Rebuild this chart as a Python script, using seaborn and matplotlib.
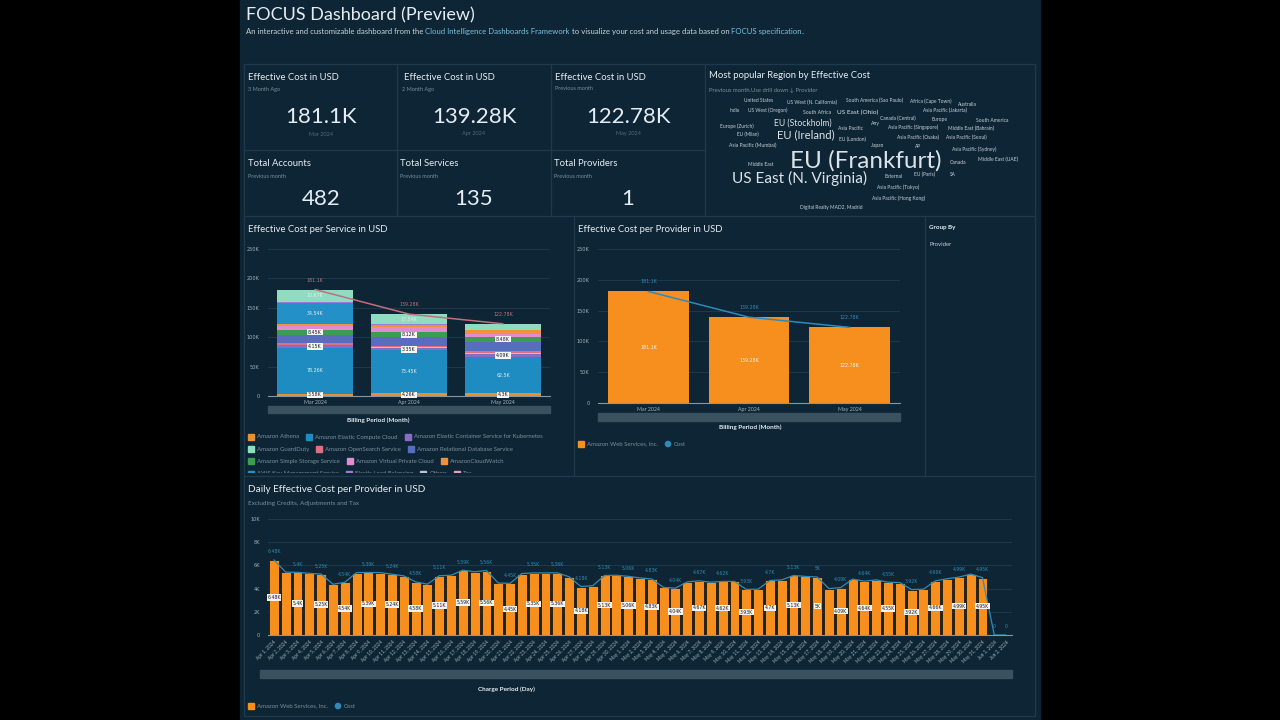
import numpy as np
import pandas as pd
import matplotlib
matplotlib.use("Agg")
import matplotlib.pyplot as plt
from matplotlib.patches import Rectangle, Circle
import seaborn as sns

BG = "#0e2535"
SEP = "#1f3a4c"
WHITE = "#e6edf2"
GREY = "#7d8e9b"
DIM = "#56697a"
LINK = "#7cc2e0"
GRID = "#1d3a4d"
AXIS = "#8796a2"
TICK = "#a3b1bb"
ORANGE = "#f78f1e"
TEAL = "#2f8bb6"
NUM = ["DejaVu Sans"]  # small number labels keep their decimal point readable

sns.set_theme(style="dark", rc={
    "axes.facecolor": "none", "figure.facecolor": "black",
    "axes.edgecolor": AXIS, "grid.color": GRID, "text.color": WHITE,
    "xtick.color": TICK, "ytick.color": TICK,
})
plt.rcParams["font.family"] = ["Lato", "DejaVu Sans"]

# ---------------- data ----------------
months = ["Mar 2024", "Apr 2024", "May 2024"]
monthly_cost = [181.10, 139.28, 122.78]  # thousand USD
kpi_periods = ["3 Month Ago", "2 Month Ago", "Previous month"]

count_titles = ["Total Accounts", "Total Services", "Total Providers"]
count_values = [482, 135, 1]

# services in stacking order (bottom -> top), values in thousand USD
services = ["Amazon Athena", "Amazon Elastic Compute Cloud",
            "Amazon Elastic Container Service for Kubernetes", "Others",
            "Amazon OpenSearch Service", "Amazon Relational Database Service",
            "Amazon Simple Storage Service", "Amazon Virtual Private Cloud",
            "AmazonCloudWatch", "AWS Key Management Service",
            "Elastic Load Balancing", "Amazon GuardDuty", "Tax"]
athena = [3.58, 4.26, 4.30]
ec2 = [78.26, 73.45, 62.50]
eks = [4.15, 3.35, 4.09]
others = [1.50, 1.50, 2.50]
opensearch = [3.00, 2.50, 2.50]
rds = [13.95, 15.00, 16.60]
s3 = [8.45, 8.12, 8.48]
vpc = [6.00, 8.50, 4.00]
cloudwatch = [4.00, 4.06, 7.00]
kms = [34.54, 0.00, 0.00]
elb = [3.00, 1.00, 1.00]
guardduty = [20.67, 17.54, 9.81]
tax = [0.00, 0.00, 0.00]
service_cost = [athena, ec2, eks, others, opensearch, rds, s3, vpc,
                cloudwatch, kms, elb, guardduty, tax]
service_colors = ["#e8902f", "#1e8cc0", "#8a6bc6", "#b4c6d6", "#e0707f",
                  "#5a6cc0", "#3b9c52", "#e08bd2", "#f0923c", "#2390c8",
                  "#9d7ad6", "#8fdcc0", "#e0a2b9"]
label_style = ["box", "plain", "box", None, None, None, "box", None,
               None, "plain", None, "plain", None]

providers = ["Amazon Web Services, Inc."]

days = [d.strftime("%b %-d, %Y") for d in pd.date_range("2024-04-01", "2024-06-02")]
daily_cost = [6.48, 5.42, 5.40, 5.32, 5.25, 4.38, 4.54, 5.38, 5.39, 5.38,
              5.24, 5.10, 4.58, 4.38, 5.11, 5.15, 5.59, 5.45, 5.56, 4.48,
              4.45, 5.30, 5.35, 5.35, 5.36, 5.02, 4.18, 4.25, 5.13, 5.15,
              5.06, 4.92, 4.83, 4.10, 4.04, 4.58, 4.67, 4.55, 4.62, 4.62,
              3.93, 3.95, 4.70, 4.75, 5.13, 5.05, 5.00, 4.00, 4.09, 4.82,
              4.64, 4.75, 4.55, 4.52, 3.92, 3.95, 4.66, 4.85, 4.99, 5.25,
              4.95, 0.00, 0.00]

regions = ["United States", "US West (N. California)", "South America (Sao Paulo)",
           "Africa (Cape Town)", "Australia", "India", "US West (Oregon)",
           "South Africa", "US East (Ohio)", "Asia Pacific (Jakarta)",
           "Canada (Central)", "Europe", "South America", "Europe (Zurich)",
           "EU (Stockholm)", "Any", "Asia Pacific (Singapore)",
           "Middle East (Bahrain)", "Asia Pacific", "EU (Milan)", "EU (Ireland)",
           "EU (London)", "Asia Pacific (Osaka)", "Asia Pacific (Seoul)",
           "Asia Pacific (Mumbai)", "Japan", "AP", "Asia Pacific (Sydney)",
           "EU (Frankfurt)", "Middle East (UAE)", "Canada", "Middle East",
           "US East (N. Virginia)", "External", "EU (Paris)", "SA",
           "Asia Pacific (Tokyo)", "Asia Pacific (Hong Kong)",
           "Digital Realty MAD2, Madrid"]
region_cost = [0.8, 0.9, 0.9, 0.7, 0.7, 0.6, 0.9, 1.5, 5.0, 0.7, 0.8, 1.0, 1.0,
               0.7, 10.5, 1.5, 0.9, 0.8, 1.0, 0.6, 17.7, 0.8, 0.8, 0.8, 1.0,
               0.7, 0.5, 0.9, 52.0, 1.0, 1.0, 0.7, 28.5, 1.0, 0.8, 0.6, 0.8,
               0.8, 0.7]
# word cloud layout (pixel centres)
cloud_xy = [(759, 101), (812, 102), (875, 100), (931, 101), (967, 104),
            (735, 111), (768, 110), (817, 113), (858, 112), (945, 110),
            (898, 118), (940, 120), (992, 121), (737, 126), (803, 123),
            (875, 124), (913, 127), (971, 128), (851, 129), (748, 134),
            (806, 135), (852, 139), (918, 137), (966, 137), (753, 145),
            (877, 145), (918, 146), (974, 149), (866, 161), (998, 159),
            (958, 162), (761, 165), (800, 178), (894, 176), (925, 174),
            (953, 174), (898, 187), (899, 198), (831, 208)]


def fmt_k(v):
    if v == 0:
        return "0"
    return f"{v:.2f}".rstrip("0").rstrip(".") + "K"


# ---------------- figure ----------------
W, H = 1280, 720
fig = plt.figure(figsize=(W / 100, H / 100), dpi=100)
renderer = fig.canvas.get_renderer()


def px_axes(x0, y0, x1, y1, z=1):
    ax = fig.add_axes([x0 / W, 1 - y1 / H, (x1 - x0) / W, (y1 - y0) / H], zorder=z)
    ax.set_xlim(x0, x1)
    ax.set_ylim(y1, y0)
    ax.axis("off")
    return ax


def chart_axes(x0, y0, x1, y1):
    ax = fig.add_axes([x0 / W, 1 - y1 / H, (x1 - x0) / W, (y1 - y0) / H], zorder=3)
    ax.set_facecolor("none")
    return ax


def style_chart(ax, ymax, step, xfs=3.8):
    ticks = np.arange(0, ymax + 0.01, step)
    ax.set_ylim(0, ymax)
    ax.set_yticks(ticks)
    ax.set_yticklabels([fmt_k(t) for t in ticks])
    ax.grid(axis="y", color=GRID, lw=0.7)
    ax.grid(axis="x", visible=False)
    ax.set_axisbelow(True)
    for s in ["top", "right", "left"]:
        ax.spines[s].set_visible(False)
    ax.spines["bottom"].set_color(AXIS)
    ax.spines["bottom"].set_linewidth(0.8)
    ax.tick_params(axis="y", length=0, labelsize=3.6, labelcolor=TICK, pad=6)
    ax.tick_params(axis="x", length=2, width=0.6, color=AXIS, labelsize=xfs,
                   labelcolor=TICK, pad=1)
    for lab in ax.get_yticklabels():
        lab.set_family(NUM)
    ax.set_xlabel("")
    ax.set_ylabel("")


def flow_legend(ax, labels, colors, x_start, x_limit, y_start, row_h, fs=4.3, dot=None):
    x, y = x_start, y_start
    for i, (lab, col) in enumerate(zip(labels, colors)):
        t = ax.text(0, 0, lab, fontsize=fs, color=GREY, va="center", clip_on=True)
        w = t.get_window_extent(renderer).width
        if x + w + 9 > x_limit and x > x_start:
            x, y = x_start, y + row_h
        if dot is not None and dot[i]:
            ax.add_patch(Circle((x + 3, y), 2.6, color=col, clip_on=True))
        else:
            ax.add_patch(Rectangle((x, y - 3), 6, 6, color=col, clip_on=True))
        t.set_position((x + 9, y))
        x += w + 9 + 7


cv = px_axes(0, 0, W, H, z=0)
cv.add_patch(Rectangle((240, 0), 800, 720, color=BG))

# panel separators
for (xa, ya, xb, yb) in [(244, 64, 1035, 64), (244, 150, 705, 150), (244, 216, 1035, 216),
                         (244, 476, 1035, 476), (244, 716, 1035, 716),
                         (397, 64, 397, 216), (551, 64, 551, 216), (705, 64, 705, 216),
                         (574, 216, 574, 476), (925, 216, 925, 476),
                         (244, 64, 244, 716), (1035, 64, 1035, 716)]:
    cv.plot([xa, xb], [ya, yb], color=SEP, lw=0.9)

# header
cv.text(246, 15, "FOCUS Dashboard (Preview)", fontsize=13, color=WHITE, va="center")
x = 246
for piece, col in [("An interactive and customizable dashboard from the ", "#c9d3da"),
                   ("Cloud Intelligence Dashboards Framework", LINK),
                   (" to visualize your cost and usage data based on ", "#c9d3da"),
                   ("FOCUS specification", LINK), (".", "#c9d3da")]:
    t = cv.text(x, 34, piece, fontsize=5.6, color=col, va="baseline")
    x += t.get_window_extent(renderer).width

# KPI tiles
col_x = [(245, 397), (397, 551), (551, 705)]
title_x = [248, 404, 555]
for i, (c0, c1) in enumerate(col_x):
    cx = (c0 + c1) / 2
    cv.text(title_x[i], 77, "Effective Cost in USD", fontsize=6.8, color=WHITE, va="center")
    cv.text(title_x[i] - (2 if i == 1 else 0), 89, kpi_periods[i], fontsize=4.0, color=GREY, va="center")
    cv.text(cx, 117, fmt_k(monthly_cost[i]), fontsize=16, color=WHITE, ha="center", va="center")
    cv.text(cx, 134, months[i], fontsize=4.0, color=DIM, ha="center", va="center")
    cv.text(c0 + 3, 163, count_titles[i], fontsize=6.8, color=WHITE, va="center")
    cv.text(c0 + 3, 177, "Previous month", fontsize=4.0, color=GREY, va="center")
    cv.text(cx, 199, str(count_values[i]), fontsize=16, color=WHITE, ha="center", va="center")

# word cloud
cv.text(709, 76, "Most popular Region by Effective Cost", fontsize=6.8, color=WHITE, va="center")
cv.text(709, 90, "Previous month.Use drill down \u2193 Provider", fontsize=4.2, color=GREY, va="center")
cmax = max(region_cost)
for name, cost, (wx, wy) in zip(regions, region_cost, cloud_xy):
    fs = 3.3 + 14.2 * cost / cmax
    cv.text(wx, wy, name, fontsize=fs, color="#dbe3e9" if cost > 3 else "#c6d0d8",
            ha="center", va="center")

# group-by panel
cv.text(929, 228, "Group By", fontsize=4.5, color=WHITE, va="center", fontweight="bold")
cv.text(929, 244, "Provider", fontsize=4.3, color="#c6d0d8", va="center")

# ---------------- effective cost per service ----------------
cv.text(248, 229, "Effective Cost per Service in USD", fontsize=6.8, color=WHITE, va="center")
ax1 = chart_axes(268, 249, 550, 396)
cum = np.cumsum(np.array(service_cost), axis=0)
for i in range(len(services) - 1, -1, -1):
    sns.barplot(x=months, y=cum[i], color=service_colors[i], width=0.8, saturation=1,
                errorbar=None, linewidth=0, ax=ax1)
for i, vals in enumerate(service_cost):
    for j, v in enumerate(vals):
        mid = cum[i][j] - v / 2
        if label_style[i] == "box" and v > 0:
            ax1.text(j, mid, fmt_k(v), fontsize=3.4, family=NUM, color="#1d1d1d",
                     ha="center", va="center",
                     bbox=dict(boxstyle="square,pad=0.15", fc="#f4f4f4", ec="none"))
        elif label_style[i] == "plain" and v >= 12:
            ax1.text(j, mid, fmt_k(v), fontsize=3.4, family=NUM, color="#e4ecf1",
                     ha="center", va="center")
sns.lineplot(x=[0, 1, 2], y=monthly_cost, color="#c46e7c", lw=1.1, ax=ax1)
for j, v in enumerate(monthly_cost):
    ax1.annotate(fmt_k(v), (j, v), xytext=(0, 5), textcoords="offset points",
                 fontsize=3.4, family=NUM, color="#c46e7c", ha="center", va="bottom")
style_chart(ax1, 250, 50)
ax1.set_xlim(-0.5, 2.5)
cv.add_patch(Rectangle((268, 406), 282, 7, color="#3a5260"))
cv.text(378, 420, "Billing Period (Month)", fontsize=4.6, color=WHITE, ha="center",
        va="center", fontweight="bold")
leg1 = px_axes(245, 428, 573, 473, z=2)
order = sorted(range(len(services)), key=lambda k: services[k].lower())
flow_legend(leg1, [services[k] for k in order], [service_colors[k] for k in order],
            248, 562, 437, 12.2, fs=4.3)

# ---------------- effective cost per provider ----------------
cv.text(578, 229, "Effective Cost per Provider in USD", fontsize=6.8, color=WHITE, va="center")
ax2 = chart_axes(598, 249, 900, 403)
sns.barplot(x=months, y=monthly_cost, color=ORANGE, width=0.8, saturation=1,
            errorbar=None, linewidth=0, ax=ax2)
for j, v in enumerate(monthly_cost):
    ax2.text(j, v / 2, fmt_k(v), fontsize=3.4, family=NUM, color="#fff4e6",
             ha="center", va="center")
sns.lineplot(x=[0, 1, 2], y=monthly_cost, color=TEAL, lw=1.1, ax=ax2)
for j, v in enumerate(monthly_cost):
    ax2.annotate(fmt_k(v), (j, v), xytext=(0, 5), textcoords="offset points",
                 fontsize=3.4, family=NUM, color=TEAL, ha="center", va="bottom")
style_chart(ax2, 250, 50)
ax2.set_xlim(-0.5, 2.5)
cv.add_patch(Rectangle((598, 413), 302, 8, color="#3a5260"))
cv.text(750, 427, "Billing Period (Month)", fontsize=4.6, color=WHITE, ha="center",
        va="center", fontweight="bold")
leg2 = px_axes(575, 436, 924, 452, z=2)
flow_legend(leg2, providers + ["Cost"], [ORANGE, TEAL], 578, 920, 444, 12, fs=4.3,
            dot=[False, True])

# ---------------- daily effective cost ----------------
cv.text(248, 490, "Daily Effective Cost per Provider in USD", fontsize=7.2, color=WHITE, va="center")
cv.text(248, 503, "Excluding Credits, Adjustments and Tax", fontsize=4.6, color=GREY, va="center")
ax3 = chart_axes(268, 519, 1012, 635)
sns.barplot(x=days, y=daily_cost, color=ORANGE, width=0.84, saturation=1, errorbar=None,
            edgecolor="#1c1a14", linewidth=0.6, ax=ax3)
pos = np.arange(len(days))
sns.lineplot(x=pos, y=daily_cost, color=TEAL, lw=0.9, ax=ax3)
for j, v in enumerate(daily_cost):
    if j % 2 == 0 and v > 0:
        ax3.text(j, v / 2, fmt_k(v), fontsize=3.3, family=NUM, color="#1d1d1d",
                 ha="center", va="center",
                 bbox=dict(boxstyle="square,pad=0.15", fc="#f4f4f4", ec="none"))
    if j % 2 == 0 or v == 0:
        ax3.annotate(fmt_k(v), (j, v), xytext=(0, 4), textcoords="offset points",
                     fontsize=3.3, family=NUM, color=TEAL, ha="center", va="bottom")
style_chart(ax3, 10, 2, xfs=3.4)
ax3.set_xlim(-0.5, len(days) - 0.5)
ax3.set_xticks(pos)
ax3.set_xticklabels(days, rotation=45, ha="right", rotation_mode="anchor")
cv.add_patch(Rectangle((260, 670), 752, 8, color="#3a5260"))
cv.text(506, 689, "Charge Period (Day)", fontsize=4.6, color=WHITE, ha="center",
        va="center", fontweight="bold")
leg3 = px_axes(245, 698, 1030, 714, z=2)
flow_legend(leg3, providers + ["Cost"], [ORANGE, TEAL], 248, 1020, 706, 12, fs=4.3,
            dot=[False, True])

fig.savefig("out.png", dpi=100, facecolor="black")
